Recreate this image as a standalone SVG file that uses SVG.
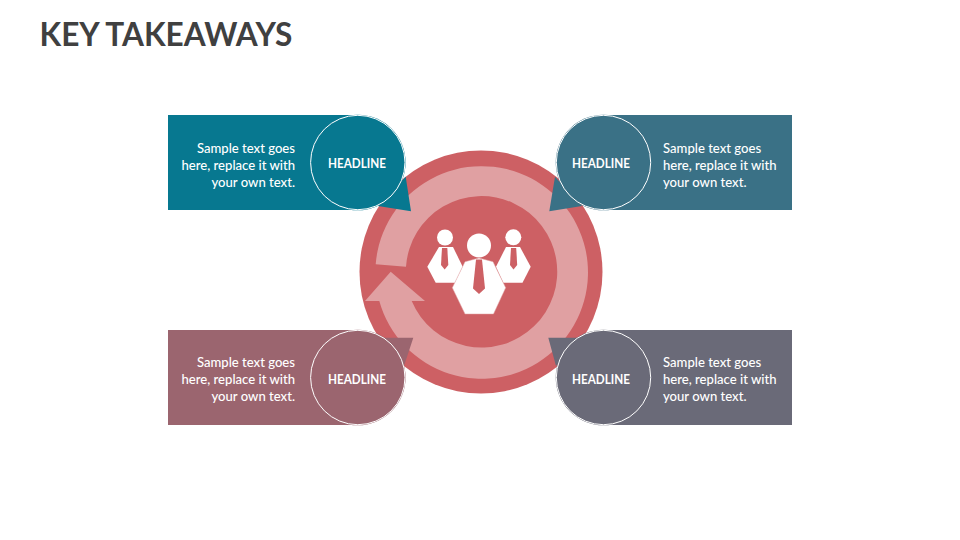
<svg xmlns="http://www.w3.org/2000/svg" width="960" height="540" viewBox="0 0 960 540">
<style>
text{font-family:"Lato","Open Sans",sans-serif;fill:#fff}
.title{font-size:31.6px;font-weight:700;fill:#404040}
.body{font-size:13.1px;font-weight:500}
.end{text-anchor:end}
.hl{font-size:12.6px;font-weight:700;text-anchor:middle}
.ring{stroke:#fff;stroke-width:1;fill:none}
.w{fill:#fff}.r{fill:#cd6064}
</style>
<rect width="960" height="540" fill="#fff"/>
<text class="title" x="39.5" y="46">KEY TAKEAWAYS</text>
<g id="hub">
<circle cx="481" cy="272" r="121.5" fill="#cd6064"/>
<path fill="#e0a0a2" d="M375.7 264.3A106.3 106.3 0 1 1 379.3 301H365L390.7 271.7L425 301H411.7A75.7 75.7 0 1 0 406 266.7Z"/>
</g>
<g id="people">
<circle class="w" cx="445" cy="237.5" r="8"/>
<path class="w" d="M439 247L453 247L462.7 266.7L455 282.7H435.7L427.3 266.7Z"/>
<path class="r" d="M442 248H447.3L448.3 265L444.7 269.5L441 265Z"/>
<circle class="w" cx="513.3" cy="237.3" r="8"/>
<path class="w" d="M506 247L520 247L530.7 266.7L522.5 282.7H503.3L496 266.7Z"/>
<path class="r" d="M511 248H516.2L517.2 265L513.5 269.5L510 265Z"/>
<circle class="w" cx="479" cy="245.5" r="12"/>
<path class="w" stroke="#e0a0a2" stroke-width=".5" d="M465 261.7L479 258L493 261.7L505.7 287.7L493.5 314H465L452.3 287.7Z"/>
<path class="r" d="M476 259.5H482L485 288.5L479 294L473 288.5Z"/>
</g>
<g id="node-top-left">
<path fill="#077890" d="M168 115H357.5V210H168ZM405.7 176.7L411 211.3L378 206Z"/>
<circle cx="357.8" cy="162.5" r="47.8" fill="#077890"/><circle class="ring" cx="357.8" cy="162.5" r="47.2"/>
<text class="hl" x="357" y="167.5" textLength="58" lengthAdjust="spacingAndGlyphs">HEADLINE</text>
<text class="body end" x="295" y="152.5">Sample text goes</text>
<text class="body end" x="295" y="169.5">here, replace it with</text>
<text class="body end" x="295" y="186.5">your own text.</text>
</g>
<g id="node-top-right">
<path fill="#3a7186" d="M603.5 115H792V210H603.5ZM555 176.7L549.3 211.3L582 206Z"/>
<circle cx="603.5" cy="162.5" r="47.8" fill="#3a7186"/><circle class="ring" cx="603.5" cy="162.5" r="47.2"/>
<text class="hl" x="601" y="167.5" textLength="58" lengthAdjust="spacingAndGlyphs">HEADLINE</text>
<text class="body" x="663" y="153">Sample text goes</text>
<text class="body" x="663" y="170">here, replace it with</text>
<text class="body" x="663" y="187">your own text.</text>
</g>
<g id="node-bottom-left">
<path fill="#9b656f" d="M168 330H357.5V425H168ZM380 337.7H413.3L404 366Z"/>
<circle cx="357.8" cy="377.5" r="47.8" fill="#9b656f"/><circle class="ring" cx="357.8" cy="377.5" r="47.2"/>
<text class="hl" x="357" y="383.5" textLength="58" lengthAdjust="spacingAndGlyphs">HEADLINE</text>
<text class="body end" x="295" y="367">Sample text goes</text>
<text class="body end" x="295" y="384">here, replace it with</text>
<text class="body end" x="295" y="401">your own text.</text>
</g>
<g id="node-bottom-right">
<path fill="#6a6a78" d="M603.5 330H792V425H603.5ZM580 337.7H548.3L556 366Z"/>
<circle cx="603.5" cy="377.5" r="47.8" fill="#6a6a78"/><circle class="ring" cx="603.5" cy="377.5" r="47.2"/>
<text class="hl" x="601" y="383.5" textLength="58" lengthAdjust="spacingAndGlyphs">HEADLINE</text>
<text class="body" x="663" y="367">Sample text goes</text>
<text class="body" x="663" y="384">here, replace it with</text>
<text class="body" x="663" y="401">your own text.</text>
</g>
</svg>
